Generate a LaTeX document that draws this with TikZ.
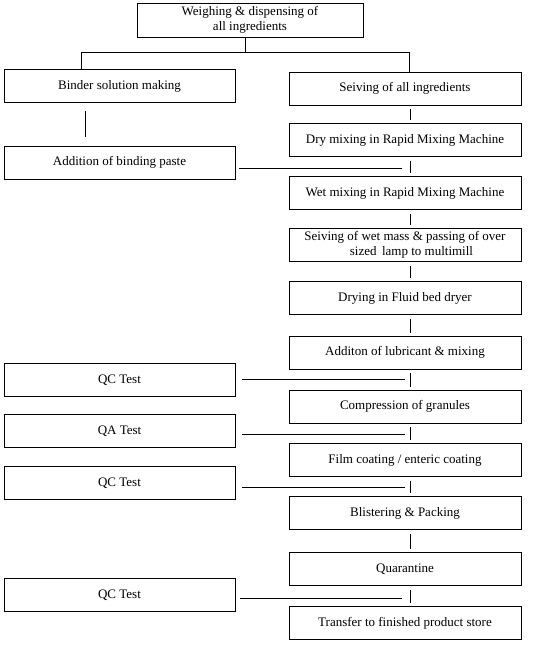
\documentclass[tikz,border=0pt]{standalone}
\usepackage{fontspec}
\setmainfont{Liberation Serif}
\usetikzlibrary{positioning, calc}

\begin{document}
\begin{tikzpicture}[
  x=1pt, y=-1pt,
  stepbox/.style={draw, line width=0.8pt, minimum height=33pt, inner sep=0pt, align=center, font=\fontsize{13}{15}\selectfont},
  leftbox/.style={stepbox, minimum width=231pt},
  rightbox/.style={stepbox, minimum width=232pt},
  link/.style={line width=0.8pt}
]
  \useasboundingbox (0,0) rectangle (536,645);
  % top of the chart
  \node[stepbox, minimum width=226pt, minimum height=34pt] (weigh) at (250,20) {Weighing \& dispensing of\\all ingredients};
  % left column
  \node[leftbox] (binder) at (119.5,86) {Binder solution making};
  \node[leftbox] (paste) at (119.5,162.5) {Addition of binding paste};
  \node[leftbox] (qcone) at (119.5,380) {QC Test};
  \node[leftbox] (qa) at (119.5,431) {QA Test};
  \node[leftbox] (qctwo) at (119.5,483) {QC Test};
  \node[leftbox] (qcthree) at (119.5,595) {QC Test};
  % right column
  \node[rightbox] (seive) at (405,88.5) {Seiving of all ingredients};
  \node[rightbox] (dry) at (405,140) {Dry mixing in Rapid Mixing Machine};
  \node[rightbox] (wet) at (405,193) {Wet mixing in Rapid Mixing Machine};
  \node[rightbox] (mass) at (405,245) {Seiving of wet mass \& passing of over\\\quad sized\, lamp to multimill};
  \node[rightbox] (drying) at (405,298) {Drying in Fluid bed dryer};
  \node[rightbox] (lubricant) at (405,352.5) {Additon of lubricant \& mixing};
  \node[rightbox] (compress) at (405,406.5) {Compression of granules};
  \node[rightbox] (coating) at (405,460) {Film coating / enteric coating};
  \node[rightbox] (blister) at (405,513) {Blistering \& Packing};
  \node[rightbox] (quarantine) at (405,569) {Quarantine};
  \node[rightbox] (transfer) at (405,623) {Transfer to finished product store};

  % split below the top box
  \draw[link] ([xshift=-5pt]weigh.south) -- ++(0,15) coordinate (split);
  \draw[link] ($(binder.north)+(-38.5,0)$) |- (split) -| ($(seive.north)+(4,0)$);
  % left column link
  \draw[link] ($(binder.south)+(-34,8)$) -- ($(paste.north)+(-34,-9)$);
  % right column links
  \foreach \a/\b in {seive/dry, dry/wet, wet/mass, mass/drying, drying/lubricant,
                     lubricant/compress, compress/coating, coating/blister,
                     blister/quarantine, quarantine/transfer}
    \draw[link] ($(\a.south)+(5,4)$) -- ($(\b.north)+(5,-3)$);
  % tests joining the main line
  \draw[link] ($(paste.east)+(4,5.5)$) -- ($(paste.east -| wet.north)+(-3,5.5)$);
  \draw[link] ($(qcone.east)+(7,-1)$) -- ($(qcone.east -| compress.north)+(0,-1)$);
  \draw[link] ($(qa.east)+(7,3)$) -- ($(qa.east -| coating.north)+(0,3)$);
  \draw[link] ($(qctwo.east)+(7,4)$) -- ($(qctwo.east -| blister.north)+(0,4)$);
  \draw[link] ($(qcthree.east)+(5,3)$) -- ($(qcthree.east -| transfer.north)+(-3,3)$);
\end{tikzpicture}
\end{document}
